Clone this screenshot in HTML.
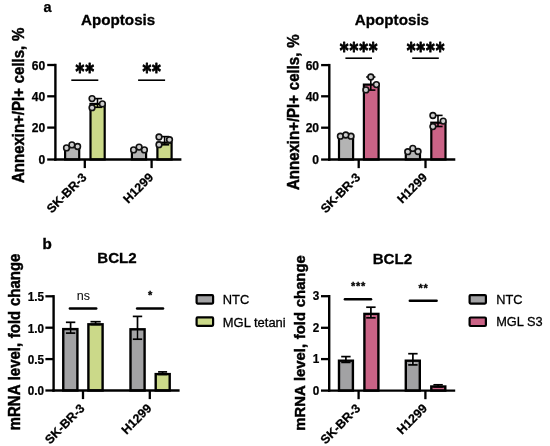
<!DOCTYPE html>
<html><head><meta charset="utf-8"><title>Figure</title>
<style>html,body{margin:0;padding:0;background:#fff;overflow:hidden}svg{display:block}</style></head>
<body>
<svg width="550" height="446" viewBox="0 0 550 446" font-family='"Liberation Sans", Arial, Helvetica, sans-serif' fill="#000">
<rect width="550" height="446" fill="#fff"/>
<rect x="65.1" y="146.5" width="14.1" height="13" fill="#b4b4b4" stroke="#000" stroke-width="2.2"/>
<rect x="90.5" y="103.9" width="14.2" height="55.6" fill="#cbd989" stroke="#000" stroke-width="2.2"/>
<rect x="131.9" y="149" width="14.2" height="10.5" fill="#b4b4b4" stroke="#000" stroke-width="2.2"/>
<rect x="157.4" y="142.7" width="14.2" height="16.8" fill="#cbd989" stroke="#000" stroke-width="2.2"/>
<line x1="55.4" y1="63.8" x2="55.4" y2="160.7" stroke="#000" stroke-width="2.4"/>
<line x1="54.2" y1="159.5" x2="181.4" y2="159.5" stroke="#000" stroke-width="2.4"/>
<line x1="47.2" y1="159.5" x2="55.4" y2="159.5" stroke="#000" stroke-width="2.3"/>
<text transform="translate(45.2 164.03) scale(1.0 1)" x="0" y="0" font-size="12.1" font-weight="bold" text-anchor="end" stroke="#000" stroke-width="0.25">0</text>
<line x1="47.2" y1="127.6" x2="55.4" y2="127.6" stroke="#000" stroke-width="2.3"/>
<text transform="translate(45.2 132.13) scale(1.0 1)" x="0" y="0" font-size="12.1" font-weight="bold" text-anchor="end" stroke="#000" stroke-width="0.25">20</text>
<line x1="47.2" y1="96.3" x2="55.4" y2="96.3" stroke="#000" stroke-width="2.3"/>
<text transform="translate(45.2 100.83) scale(1.0 1)" x="0" y="0" font-size="12.1" font-weight="bold" text-anchor="end" stroke="#000" stroke-width="0.25">40</text>
<line x1="47.2" y1="65" x2="55.4" y2="65" stroke="#000" stroke-width="2.3"/>
<text transform="translate(45.2 69.53) scale(1.0 1)" x="0" y="0" font-size="12.1" font-weight="bold" text-anchor="end" stroke="#000" stroke-width="0.25">60</text>
<line x1="84.8" y1="159.5" x2="84.8" y2="168.1" stroke="#000" stroke-width="2.3"/>
<line x1="151.6" y1="159.5" x2="151.6" y2="168.1" stroke="#000" stroke-width="2.3"/>
<line x1="97.5" y1="98.6" x2="97.5" y2="107.3" stroke="#000" stroke-width="1.6"/>
<line x1="92.9" y1="98.6" x2="102.1" y2="98.6" stroke="#000" stroke-width="1.6"/>
<line x1="92.9" y1="107.3" x2="102.1" y2="107.3" stroke="#000" stroke-width="1.6"/>
<line x1="164.6" y1="136.6" x2="164.6" y2="144.8" stroke="#000" stroke-width="1.6"/>
<line x1="160" y1="136.6" x2="169.2" y2="136.6" stroke="#000" stroke-width="1.6"/>
<line x1="160" y1="144.8" x2="169.2" y2="144.8" stroke="#000" stroke-width="1.6"/>
<circle cx="66.5" cy="147.9" r="2.85" fill="#cdcdcd" stroke="#111" stroke-width="1.6"/>
<circle cx="77.6" cy="146.5" r="2.85" fill="#cdcdcd" stroke="#111" stroke-width="1.6"/>
<circle cx="71.9" cy="144.9" r="2.85" fill="#cdcdcd" stroke="#111" stroke-width="1.6"/>
<circle cx="92.05" cy="98.6" r="2.85" fill="#cdcdcd" stroke="#111" stroke-width="1.6"/>
<circle cx="102.4" cy="103.9" r="2.85" fill="#cdcdcd" stroke="#111" stroke-width="1.6"/>
<circle cx="92.05" cy="107.7" r="2.85" fill="#cdcdcd" stroke="#111" stroke-width="1.6"/>
<circle cx="133.6" cy="149.9" r="2.85" fill="#cdcdcd" stroke="#111" stroke-width="1.6"/>
<circle cx="144.4" cy="149.9" r="2.85" fill="#cdcdcd" stroke="#111" stroke-width="1.6"/>
<circle cx="139.1" cy="147.1" r="2.85" fill="#cdcdcd" stroke="#111" stroke-width="1.6"/>
<circle cx="159" cy="137" r="2.85" fill="#cdcdcd" stroke="#111" stroke-width="1.6"/>
<circle cx="169.5" cy="139.7" r="2.85" fill="#cdcdcd" stroke="#111" stroke-width="1.6"/>
<circle cx="159" cy="144.7" r="2.85" fill="#cdcdcd" stroke="#111" stroke-width="1.6"/>
<text x="43.6" y="11.6" font-size="14.5" font-weight="bold" text-anchor="start" stroke="#000" stroke-width="0.25">a</text>
<text x="118.1" y="25.3" font-size="15.4" font-weight="bold" text-anchor="middle" textLength="74.4" lengthAdjust="spacingAndGlyphs" stroke="#000" stroke-width="0.3">Apoptosis</text>
<text x="24.4" y="105.3" font-size="15.8" font-weight="bold" text-anchor="middle" transform="rotate(-90 24.4 105.3)" textLength="155.4" lengthAdjust="spacingAndGlyphs" word-spacing="0.7" stroke="#000" stroke-width="0.45">Annexin+/PI+ cells, %</text>
<line x1="71.3" y1="80.2" x2="98.3" y2="80.2" stroke="#000" stroke-width="1.6"/>
<text transform="translate(84.8 68.3) scale(0.84 1.02)" x="0.55" y="10.2" letter-spacing="1.05" font-family="'DejaVu Sans', 'Liberation Sans', sans-serif" font-size="20" font-weight="bold" text-anchor="middle" stroke="#000" stroke-width="1.0" stroke-linejoin="round">**</text>
<line x1="138.1" y1="80.2" x2="165.1" y2="80.2" stroke="#000" stroke-width="1.6"/>
<text transform="translate(151.6 68.3) scale(0.84 1.02)" x="0.55" y="10.2" letter-spacing="1.05" font-family="'DejaVu Sans', 'Liberation Sans', sans-serif" font-size="20" font-weight="bold" text-anchor="middle" stroke="#000" stroke-width="1.0" stroke-linejoin="round">**</text>
<text x="87.3" y="178.1" font-size="12.4" font-weight="bold" text-anchor="end" transform="rotate(-45 87.3 178.1)" stroke="#000" stroke-width="0.25">SK-BR-3</text>
<text x="154.1" y="178.1" font-size="12.4" font-weight="bold" text-anchor="end" transform="rotate(-45 154.1 178.1)" stroke="#000" stroke-width="0.25">H1299</text>
<rect x="339" y="135.7" width="14.1" height="23.85" fill="#b4b4b4" stroke="#000" stroke-width="2.2"/>
<rect x="363.9" y="84.6" width="14.7" height="74.95" fill="#ca6386" stroke="#000" stroke-width="2.2"/>
<rect x="405.8" y="150.7" width="14.2" height="8.85" fill="#b4b4b4" stroke="#000" stroke-width="2.2"/>
<rect x="431.3" y="122.7" width="14.2" height="36.85" fill="#ca6386" stroke="#000" stroke-width="2.2"/>
<line x1="329.3" y1="63.9" x2="329.3" y2="160.75" stroke="#000" stroke-width="2.4"/>
<line x1="328.1" y1="159.55" x2="455.3" y2="159.55" stroke="#000" stroke-width="2.4"/>
<line x1="321.1" y1="159.55" x2="329.3" y2="159.55" stroke="#000" stroke-width="2.3"/>
<text transform="translate(319.1 164.08) scale(1.0 1)" x="0" y="0" font-size="12.1" font-weight="bold" text-anchor="end" stroke="#000" stroke-width="0.25">0</text>
<line x1="321.1" y1="127.7" x2="329.3" y2="127.7" stroke="#000" stroke-width="2.3"/>
<text transform="translate(319.1 132.23) scale(1.0 1)" x="0" y="0" font-size="12.1" font-weight="bold" text-anchor="end" stroke="#000" stroke-width="0.25">20</text>
<line x1="321.1" y1="96.3" x2="329.3" y2="96.3" stroke="#000" stroke-width="2.3"/>
<text transform="translate(319.1 100.83) scale(1.0 1)" x="0" y="0" font-size="12.1" font-weight="bold" text-anchor="end" stroke="#000" stroke-width="0.25">40</text>
<line x1="321.1" y1="65.1" x2="329.3" y2="65.1" stroke="#000" stroke-width="2.3"/>
<text transform="translate(319.1 69.63) scale(1.0 1)" x="0" y="0" font-size="12.1" font-weight="bold" text-anchor="end" stroke="#000" stroke-width="0.25">60</text>
<line x1="358.7" y1="159.55" x2="358.7" y2="168.15" stroke="#000" stroke-width="2.3"/>
<line x1="425.5" y1="159.55" x2="425.5" y2="168.15" stroke="#000" stroke-width="2.3"/>
<line x1="370.8" y1="77" x2="370.8" y2="90.1" stroke="#000" stroke-width="1.6"/>
<line x1="366.2" y1="77" x2="375.4" y2="77" stroke="#000" stroke-width="1.6"/>
<line x1="366.2" y1="90.1" x2="375.4" y2="90.1" stroke="#000" stroke-width="1.6"/>
<line x1="438" y1="115.4" x2="438" y2="126.5" stroke="#000" stroke-width="1.6"/>
<line x1="433.4" y1="115.4" x2="442.6" y2="115.4" stroke="#000" stroke-width="1.6"/>
<line x1="433.4" y1="126.5" x2="442.6" y2="126.5" stroke="#000" stroke-width="1.6"/>
<circle cx="340.4" cy="136.2" r="2.85" fill="#cdcdcd" stroke="#111" stroke-width="1.6"/>
<circle cx="351" cy="136.2" r="2.85" fill="#cdcdcd" stroke="#111" stroke-width="1.6"/>
<circle cx="345.8" cy="135" r="2.85" fill="#cdcdcd" stroke="#111" stroke-width="1.6"/>
<circle cx="370.8" cy="77" r="2.85" fill="#cdcdcd" stroke="#111" stroke-width="1.6"/>
<circle cx="376.4" cy="84.6" r="2.85" fill="#cdcdcd" stroke="#111" stroke-width="1.6"/>
<circle cx="365.9" cy="89.9" r="2.85" fill="#cdcdcd" stroke="#111" stroke-width="1.6"/>
<circle cx="407.8" cy="151.7" r="2.85" fill="#cdcdcd" stroke="#111" stroke-width="1.6"/>
<circle cx="418" cy="151.5" r="2.85" fill="#cdcdcd" stroke="#111" stroke-width="1.6"/>
<circle cx="412.8" cy="148.4" r="2.85" fill="#cdcdcd" stroke="#111" stroke-width="1.6"/>
<circle cx="432.9" cy="115.5" r="2.85" fill="#cdcdcd" stroke="#111" stroke-width="1.6"/>
<circle cx="443.2" cy="121.1" r="2.85" fill="#cdcdcd" stroke="#111" stroke-width="1.6"/>
<circle cx="432.9" cy="126.6" r="2.85" fill="#cdcdcd" stroke="#111" stroke-width="1.6"/>
<text x="391.9" y="25.1" font-size="15.4" font-weight="bold" text-anchor="middle" textLength="74.4" lengthAdjust="spacingAndGlyphs" stroke="#000" stroke-width="0.3">Apoptosis</text>
<text x="298.9" y="112.25" font-size="15.8" font-weight="bold" text-anchor="middle" transform="rotate(-90 298.9 112.25)" textLength="155.5" lengthAdjust="spacingAndGlyphs" word-spacing="0.7" stroke="#000" stroke-width="0.45">Annexin+/PI+ cells, %</text>
<line x1="345.4" y1="58.2" x2="372" y2="58.2" stroke="#000" stroke-width="1.6"/>
<text transform="translate(358.7 47.5) scale(0.84 1.02)" x="0.55" y="10.2" letter-spacing="1.05" font-family="'DejaVu Sans', 'Liberation Sans', sans-serif" font-size="20" font-weight="bold" text-anchor="middle" stroke="#000" stroke-width="1.0" stroke-linejoin="round">****</text>
<line x1="412.2" y1="58.2" x2="438.8" y2="58.2" stroke="#000" stroke-width="1.6"/>
<text transform="translate(425.5 47.5) scale(0.84 1.02)" x="0.55" y="10.2" letter-spacing="1.05" font-family="'DejaVu Sans', 'Liberation Sans', sans-serif" font-size="20" font-weight="bold" text-anchor="middle" stroke="#000" stroke-width="1.0" stroke-linejoin="round">****</text>
<text x="361.2" y="178.15" font-size="12.4" font-weight="bold" text-anchor="end" transform="rotate(-45 361.2 178.15)" stroke="#000" stroke-width="0.25">SK-BR-3</text>
<text x="428" y="178.15" font-size="12.4" font-weight="bold" text-anchor="end" transform="rotate(-45 428 178.15)" stroke="#000" stroke-width="0.25">H1299</text>
<rect x="63.25" y="329.1" width="14.15" height="61.4" fill="#a2a2a4" stroke="#000" stroke-width="2.4"/>
<rect x="88.4" y="324.3" width="14.2" height="66.2" fill="#cbd989" stroke="#000" stroke-width="2.4"/>
<rect x="130.5" y="329.3" width="14.1" height="61.2" fill="#a2a2a4" stroke="#000" stroke-width="2.4"/>
<rect x="155.7" y="374.1" width="14" height="16.4" fill="#cbd989" stroke="#000" stroke-width="2.4"/>
<line x1="53.6" y1="295.1" x2="53.6" y2="391.7" stroke="#000" stroke-width="2.4"/>
<line x1="52.4" y1="390.5" x2="179.6" y2="390.5" stroke="#000" stroke-width="2.4"/>
<line x1="45.4" y1="390.5" x2="53.6" y2="390.5" stroke="#000" stroke-width="2.3"/>
<text transform="translate(44.05 395.45) scale(0.925 1)" x="0" y="0" font-size="12.7" font-weight="bold" text-anchor="end" stroke="#000" stroke-width="0.25">0.0</text>
<line x1="45.4" y1="359.1" x2="53.6" y2="359.1" stroke="#000" stroke-width="2.3"/>
<text transform="translate(44.05 364.05) scale(0.925 1)" x="0" y="0" font-size="12.7" font-weight="bold" text-anchor="end" stroke="#000" stroke-width="0.25">0.5</text>
<line x1="45.4" y1="327.7" x2="53.6" y2="327.7" stroke="#000" stroke-width="2.3"/>
<text transform="translate(44.05 332.65) scale(0.925 1)" x="0" y="0" font-size="12.7" font-weight="bold" text-anchor="end" stroke="#000" stroke-width="0.25">1.0</text>
<line x1="45.4" y1="296.3" x2="53.6" y2="296.3" stroke="#000" stroke-width="2.3"/>
<text transform="translate(44.05 301.25) scale(0.925 1)" x="0" y="0" font-size="12.7" font-weight="bold" text-anchor="end" stroke="#000" stroke-width="0.25">1.5</text>
<line x1="83" y1="390.5" x2="83" y2="399.1" stroke="#000" stroke-width="2.3"/>
<line x1="149.8" y1="390.5" x2="149.8" y2="399.1" stroke="#000" stroke-width="2.3"/>
<path d="M70.6 330.5V333.1" stroke="#fff" stroke-opacity="0.4" stroke-width="3.3" fill="none"/>
<line x1="70.6" y1="322.3" x2="70.6" y2="333.1" stroke="#000" stroke-width="1.7"/>
<line x1="65.9" y1="322.3" x2="75.3" y2="322.3" stroke="#000" stroke-width="1.7"/>
<line x1="65.9" y1="333.1" x2="75.3" y2="333.1" stroke="#000" stroke-width="1.7"/>
<line x1="95.6" y1="321.7" x2="95.6" y2="324.6" stroke="#000" stroke-width="1.7"/>
<line x1="90.5" y1="321.7" x2="100.7" y2="321.7" stroke="#000" stroke-width="1.7"/>
<line x1="90.5" y1="324.6" x2="100.7" y2="324.6" stroke="#000" stroke-width="1.7"/>
<path d="M137.5 330.7V339.2" stroke="#fff" stroke-opacity="0.4" stroke-width="3.3" fill="none"/>
<line x1="137.5" y1="316.4" x2="137.5" y2="339.2" stroke="#000" stroke-width="1.7"/>
<line x1="132.8" y1="316.4" x2="142.2" y2="316.4" stroke="#000" stroke-width="1.7"/>
<line x1="132.8" y1="339.2" x2="142.2" y2="339.2" stroke="#000" stroke-width="1.7"/>
<line x1="162.6" y1="371.9" x2="162.6" y2="374.4" stroke="#000" stroke-width="1.7"/>
<line x1="158.1" y1="371.9" x2="167.1" y2="371.9" stroke="#000" stroke-width="1.7"/>
<line x1="158.1" y1="374.4" x2="167.1" y2="374.4" stroke="#000" stroke-width="1.7"/>
<text x="42.4" y="248.9" font-size="15.2" font-weight="bold" text-anchor="start" stroke="#000" stroke-width="0.4">b</text>
<text x="117" y="263.3" font-size="15.5" font-weight="bold" text-anchor="middle" textLength="39.5" lengthAdjust="spacingAndGlyphs" stroke="#000" stroke-width="0.3">BCL2</text>
<text x="20.1" y="341.95" font-size="15.8" font-weight="bold" text-anchor="middle" transform="rotate(-90 20.1 341.95)" textLength="176.5" lengthAdjust="spacingAndGlyphs" word-spacing="0.7" stroke="#000" stroke-width="0.45">mRNA level, fold change</text>
<line x1="69.9" y1="308.6" x2="96.2" y2="308.6" stroke="#000" stroke-width="2.5" stroke-linecap="round"/>
<line x1="137.1" y1="308.5" x2="163" y2="308.5" stroke="#000" stroke-width="2.5" stroke-linecap="round"/>
<text x="83.3" y="299.7" font-size="12.5" font-weight="normal" text-anchor="middle">ns</text>
<text x="150.46" y="298.65" font-size="11" font-weight="bold" text-anchor="middle" letter-spacing="0.72" stroke="#000" stroke-width="0.35">*</text>
<text x="85.5" y="409.1" font-size="12.4" font-weight="bold" text-anchor="end" transform="rotate(-45 85.5 409.1)" stroke="#000" stroke-width="0.25">SK-BR-3</text>
<text x="152.3" y="409.1" font-size="12.4" font-weight="bold" text-anchor="end" transform="rotate(-45 152.3 409.1)" stroke="#000" stroke-width="0.25">H1299</text>
<rect x="196.6" y="295.2" width="16.5" height="8.4" rx="1" fill="#a2a2a4" stroke="#000" stroke-width="2.2"/>
<text x="222.8" y="304" font-size="13.7" font-weight="normal" text-anchor="start" textLength="26.5" lengthAdjust="spacingAndGlyphs" stroke="#000" stroke-width="0.3">NTC</text>
<rect x="196.6" y="317.4" width="16.5" height="8.4" rx="1" fill="#cbd989" stroke="#000" stroke-width="2.2"/>
<text x="222.8" y="326.8" font-size="13.7" font-weight="normal" text-anchor="start" textLength="62.9" lengthAdjust="spacingAndGlyphs" stroke="#000" stroke-width="0.3">MGL tetani</text>
<rect x="339" y="360.7" width="13.9" height="29.9" fill="#a2a2a4" stroke="#000" stroke-width="2.4"/>
<rect x="364.4" y="313.9" width="14" height="76.7" fill="#ca6386" stroke="#000" stroke-width="2.4"/>
<rect x="405.8" y="360.7" width="14" height="29.9" fill="#a2a2a4" stroke="#000" stroke-width="2.4"/>
<rect x="431.3" y="386.5" width="14" height="4.1" fill="#ca6386" stroke="#000" stroke-width="2.4"/>
<line x1="329.2" y1="295" x2="329.2" y2="391.8" stroke="#000" stroke-width="2.4"/>
<line x1="328" y1="390.6" x2="455.2" y2="390.6" stroke="#000" stroke-width="2.4"/>
<line x1="321" y1="390.6" x2="329.2" y2="390.6" stroke="#000" stroke-width="2.3"/>
<text transform="translate(319.3 394.78) scale(0.94 1)" x="0" y="0" font-size="12.5" font-weight="bold" text-anchor="end" stroke="#000" stroke-width="0.25">0</text>
<line x1="321" y1="359.1" x2="329.2" y2="359.1" stroke="#000" stroke-width="2.3"/>
<text transform="translate(319.3 363.28) scale(0.94 1)" x="0" y="0" font-size="12.5" font-weight="bold" text-anchor="end" stroke="#000" stroke-width="0.25">1</text>
<line x1="321" y1="327.8" x2="329.2" y2="327.8" stroke="#000" stroke-width="2.3"/>
<text transform="translate(319.3 331.98) scale(0.94 1)" x="0" y="0" font-size="12.5" font-weight="bold" text-anchor="end" stroke="#000" stroke-width="0.25">2</text>
<line x1="321" y1="296.2" x2="329.2" y2="296.2" stroke="#000" stroke-width="2.3"/>
<text transform="translate(319.3 300.38) scale(0.94 1)" x="0" y="0" font-size="12.5" font-weight="bold" text-anchor="end" stroke="#000" stroke-width="0.25">3</text>
<line x1="358.6" y1="390.6" x2="358.6" y2="399.2" stroke="#000" stroke-width="2.3"/>
<line x1="425.4" y1="390.6" x2="425.4" y2="399.2" stroke="#000" stroke-width="2.3"/>
<path d="M345.9 362V362.4" stroke="#fff" stroke-opacity="0.4" stroke-width="3.3" fill="none"/>
<line x1="345.9" y1="356.6" x2="345.9" y2="362.4" stroke="#000" stroke-width="1.7"/>
<line x1="341.2" y1="356.6" x2="350.6" y2="356.6" stroke="#000" stroke-width="1.7"/>
<line x1="341.2" y1="362.4" x2="350.6" y2="362.4" stroke="#000" stroke-width="1.7"/>
<path d="M370.9 315.3V317.8" stroke="#fff" stroke-opacity="0.4" stroke-width="3.3" fill="none"/>
<line x1="370.9" y1="307.2" x2="370.9" y2="317.8" stroke="#000" stroke-width="1.7"/>
<line x1="366.2" y1="307.2" x2="375.6" y2="307.2" stroke="#000" stroke-width="1.7"/>
<line x1="366.2" y1="317.8" x2="375.6" y2="317.8" stroke="#000" stroke-width="1.7"/>
<path d="M412.9 362.1V364.9" stroke="#fff" stroke-opacity="0.4" stroke-width="3.3" fill="none"/>
<line x1="412.9" y1="353.7" x2="412.9" y2="364.9" stroke="#000" stroke-width="1.7"/>
<line x1="408.2" y1="353.7" x2="417.6" y2="353.7" stroke="#000" stroke-width="1.7"/>
<line x1="408.2" y1="364.9" x2="417.6" y2="364.9" stroke="#000" stroke-width="1.7"/>
<line x1="438.1" y1="384.8" x2="438.1" y2="386.9" stroke="#000" stroke-width="1.7"/>
<line x1="433.4" y1="384.8" x2="442.8" y2="384.8" stroke="#000" stroke-width="1.7"/>
<line x1="433.4" y1="386.9" x2="442.8" y2="386.9" stroke="#000" stroke-width="1.7"/>
<text x="392.4" y="263.6" font-size="15.5" font-weight="bold" text-anchor="middle" textLength="39.5" lengthAdjust="spacingAndGlyphs" stroke="#000" stroke-width="0.3">BCL2</text>
<text x="305.35" y="342.95" font-size="14.9" font-weight="bold" text-anchor="middle" transform="rotate(-90 305.35 342.95)" textLength="175.4" lengthAdjust="spacingAndGlyphs" word-spacing="0.7" stroke="#000" stroke-width="0.45">mRNA level, fold change</text>
<line x1="344.9" y1="299.3" x2="371" y2="299.3" stroke="#000" stroke-width="2.5" stroke-linecap="round"/>
<line x1="409.8" y1="300.8" x2="436.6" y2="300.8" stroke="#000" stroke-width="2.5" stroke-linecap="round"/>
<text x="358.56" y="290.15" font-size="11" font-weight="bold" text-anchor="middle" letter-spacing="0.72" stroke="#000" stroke-width="0.35">***</text>
<text x="423.56" y="291.65" font-size="11" font-weight="bold" text-anchor="middle" letter-spacing="0.72" stroke="#000" stroke-width="0.35">**</text>
<text x="361.1" y="409.2" font-size="12.4" font-weight="bold" text-anchor="end" transform="rotate(-45 361.1 409.2)" stroke="#000" stroke-width="0.25">SK-BR-3</text>
<text x="427.9" y="409.2" font-size="12.4" font-weight="bold" text-anchor="end" transform="rotate(-45 427.9 409.2)" stroke="#000" stroke-width="0.25">H1299</text>
<rect x="469.6" y="295.1" width="16.3" height="8.5" rx="1" fill="#a2a2a4" stroke="#000" stroke-width="2.2"/>
<text x="496.2" y="303.95" font-size="13.7" font-weight="normal" text-anchor="start" textLength="26.3" lengthAdjust="spacingAndGlyphs" stroke="#000" stroke-width="0.3">NTC</text>
<rect x="469.6" y="317.5" width="16.3" height="8.5" rx="1" fill="#ca6386" stroke="#000" stroke-width="2.2"/>
<text x="496.2" y="326.2" font-size="13.7" font-weight="normal" text-anchor="start" textLength="46.4" lengthAdjust="spacingAndGlyphs" stroke="#000" stroke-width="0.3">MGL S3</text>
</svg>
</body></html>
